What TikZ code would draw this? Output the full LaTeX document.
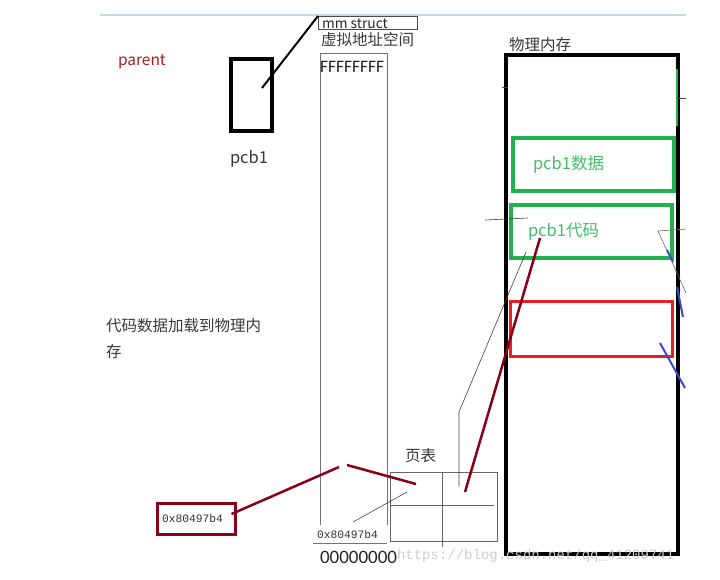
\documentclass[tikz,border=0pt]{standalone}
\usepackage{fontspec}
\setmainfont{Noto Sans CJK SC}
\newfontfamily\numfont{Carlito}
\newfontfamily\addrfont{Liberation Mono}
\usetikzlibrary{positioning}
\definecolor{memgreen}{RGB}{34,177,76}
\definecolor{memred}{RGB}{237,28,36}
\definecolor{darkred}{RGB}{136,0,21}
\definecolor{parentred}{RGB}{160,35,35}
\definecolor{penblue}{RGB}{63,72,204}
\definecolor{rulegray}{RGB}{205,214,228}

\begin{document}
\begin{tikzpicture}[x=1pt,y=-1pt,
  every node/.style={inner sep=0pt, outer sep=0pt},
  frame/.style={draw, rectangle, anchor=north west},
  zh/.style={font=\fontsize{15.5}{26}\selectfont, text=black!78, anchor=west},
  greenbox/.style={frame, draw=memgreen, line width=3.5pt,
                   minimum width=161pt, minimum height=53pt},
  greentext/.style={font=\fontsize{16.5}{19}\selectfont, text=memgreen!85!white, anchor=west},
  addr/.style={font=\addrfont\fontsize{11.3}{13}\selectfont, text=black!80, anchor=west},
  thinline/.style={black!75, line width=0.6pt},
  redline/.style={darkred, line width=2.5pt},
  blueline/.style={penblue, line width=2pt},
  ]
\useasboundingbox (0,0) rectangle (720,579);
\draw[rulegray, line width=2pt] (100,15) -- (686,15);

% process side
\node[frame, line width=4pt, minimum width=41pt, minimum height=72pt] (pcb) at (231,59) {};
\node[zh, font=\fontsize{16.5}{19}\selectfont] (pcbname) at (230,159) {pcb1};
\node[zh, text=parentred] (parent) at (118,62) {parent};
\node[frame, draw=black!70, line width=0.8pt, minimum width=99pt, minimum height=13pt] (mm) at (318,16) {};
\node[font=\fontsize{13.8}{15}\selectfont, text=black!85, anchor=west] (mmname) at ([xshift=4pt,yshift=-1pt]mm.west) {mm struct};
\coordinate (pcbin) at (262,88);
\draw[line width=2pt] (pcbin) -- (mm.north west);

% virtual address space
\node[zh] (vaname) at (321,40) {虚拟地址空间};
\draw[black!55, line width=1pt] (320,525) |- (387,53) -- (387,525);
\node[font=\numfont\fontsize{17.5}{19}\selectfont, text=black!85, anchor=west] (top) at (320,67) {FFFFFFFF};
\node[addr] (vaddr) at (317,534) {0x80497b4};
\draw[black!55, line width=0.8pt] (313,543) -- (387,543);
\node[font=\numfont\fontsize{19}{21}\selectfont, text=black!85, anchor=west] (bottom) at (320,557) {00000000};

\node[zh, align=left, anchor=north west] (note) at (106,318) {代码数据加载到物理内\\存};

% physical memory
\node[zh] (physname) at (509,45) {物理内存};
\node[frame, line width=4pt, minimum width=172pt, minimum height=499pt] (phys) at (506,55) {};
\node[greenbox] (data) at (513,138) {};
\node[greentext, right=20pt of data.west] (dataname) {pcb1数据};
\node[greenbox] (code) at (511,205) {};
\node[greentext, right=17pt of code.west] (codename) {pcb1代码};
\node[frame, draw=memred, line width=3pt, minimum width=162pt, minimum height=55pt] (slot) at (510,301) {};
\draw[memgreen, line width=2.5pt] (677,69) -- (677,126);
\draw[thinline] (502,87) -- (508,87);
\draw[thinline] (677,98) -- (686,98);
\draw[thinline] (485,220) -- (528,218);
\draw[black!60, line width=0.6pt] (686,229) -- (658,231) -- (686,293);
\draw[blueline] (667,250) -- (673,262);
\draw[blueline] (677,287) -- (683,317);
\draw[blueline] (660,343) -- (685,388);

% page table
\node[zh] (ptname) at (405,456) {页表};
\node[frame, draw=black!60, line width=0.8pt, minimum width=107pt, minimum height=69pt] (pt) at (390,472) {};
\draw[black!60, line width=0.8pt] (442,472) -- (442,547);
\draw[black!60, line width=0.8pt] (390,505) -- (494,505);

% address to translate
\node[frame, draw=darkred, line width=2.5pt, minimum width=78pt, minimum height=31pt] (va) at (157.5,503.5) {};
\node[addr] (vaname2) at (162,518) {0x80497b4};

\coordinate (gapa) at (339,467);
\coordinate (gapb) at (347,465);
\coordinate (ptin) at (416,484);
\coordinate (ptcell) at (465,492);
\coordinate (codein) at (540,238);
\coordinate (codelow) at (526,252);
\coordinate (bend) at (459,412);
\coordinate (bendend) at (459,486);
\draw[redline] ([xshift=-4pt,yshift=5pt]va.east) -- (gapa);
\draw[redline] (gapb) -- (ptin);
\draw[redline] (codein) -- (ptcell);
\draw[thinline] (407,492) -- (353,522);
\draw[thinline] (codelow) -- (bend) -- (bendend);

\node[font=\addrfont\fontsize{14}{16}\selectfont, text=black!20, anchor=west] (mark) at (397,556) {https://blog.csdn.net/qq\_41209741};
\end{tikzpicture}
\end{document}
